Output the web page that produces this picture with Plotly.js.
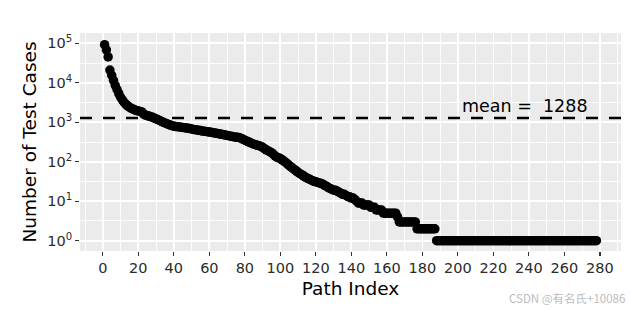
<!DOCTYPE html>
<html>
<head>
<meta charset="utf-8">
<script src="https://cdn.plot.ly/plotly-3.0.1.min.js"></script>
<style>
html,body{margin:0;padding:0;background:#ffffff;}
#chart{width:636px;height:309px;}
</style>
</head>
<body>
<div id="chart"></div>
<script>
// Number of test cases per path, sorted descending
const testCases = [
  92000, 68000, 45000, 21000, 15500, 11500, 8600, 6800, 5300, 4300,
  3700, 3200, 2850, 2600, 2400, 2250, 2150, 2050, 1980, 1930,
  1880, 1820, 1600, 1520, 1470, 1430, 1380, 1330, 1280, 1220,
  1160, 1110, 1050, 1000, 960, 920, 880, 850, 820, 795,
  780, 770, 760, 750, 740, 730, 715, 700, 690, 675,
  660, 650, 640, 625, 615, 600, 595, 585, 575, 565,
  555, 545, 535, 525, 515, 505, 495, 485, 475, 465,
  455, 445, 435, 425, 420, 415, 405, 390, 370, 350,
  335, 320, 305, 290, 280, 270, 262, 255, 245, 232,
  215, 200, 190, 180, 170, 155, 140, 130, 126, 120,
  112, 104, 96, 88, 80, 74, 68, 63, 58, 54,
  50, 47, 44, 41, 39, 37, 35, 33, 32, 31,
  30, 29, 28, 27, 25, 24, 22, 21, 20, 19,
  19, 18, 17, 16, 15, 15, 14, 13, 13, 12,
  12, 11, 10, 9, 9, 9, 8, 8, 8, 8,
  7, 7, 7, 6, 6, 6, 6, 5, 5, 5,
  5, 5, 5, 5, 5, 4, 3, 3, 3, 3,
  3, 3, 3, 3, 3, 3, 2, 2, 2, 2,
  2, 2, 2, 2, 2, 2, 2, 1, 1, 1,
  1, 1, 1, 1, 1, 1, 1, 1, 1, 1,
  1, 1, 1, 1, 1, 1, 1, 1, 1, 1,
  1, 1, 1, 1, 1, 1, 1, 1, 1, 1,
  1, 1, 1, 1, 1, 1, 1, 1, 1, 1,
  1, 1, 1, 1, 1, 1, 1, 1, 1, 1,
  1, 1, 1, 1, 1, 1, 1, 1, 1, 1,
  1, 1, 1, 1, 1, 1, 1, 1, 1, 1,
  1, 1, 1, 1, 1, 1, 1, 1, 1, 1,
  1, 1, 1, 1, 1, 1, 1, 1
];
const meanValue = 1288;
const meanLabel = 'mean =  1288';
const xTickVals = [0, 20, 40, 60, 80, 100, 120, 140, 160, 180, 200, 220, 240, 260, 280];
const xMinorVals = [-10, 10, 30, 50, 70, 90, 110, 130, 150, 170, 190, 210, 230, 250, 270, 290];
const yTickVals = [1, 10, 100, 1000, 10000, 100000];
const yTickText = ['10<sup>0</sup>', '10<sup>1</sup>', '10<sup>2</sup>', '10<sup>3</sup>', '10<sup>4</sup>', '10<sup>5</sup>'];
const yMinorVals = [3.1623, 31.623, 316.23, 3162.3, 31623];
const xTitle = 'Path Index';
const yTitle = 'Number of Test Cases';
const watermark = 'CSDN @有名氏+10086';

const pathIndex = testCases.map((_, i) => i + 1);

const FONT = 'DejaVu Sans, Liberation Sans, Arial, sans-serif';

const trace = {
  x: pathIndex,
  y: testCases,
  type: 'scatter',
  mode: 'markers',
  marker: {color: '#000000', size: 9.5, line: {width: 0}},
  hoverinfo: 'skip',
  showlegend: false
};

const layout = {
  width: 636,
  height: 309,
  margin: {l: 80, r: 15, t: 32.5, b: 58, pad: 0},
  paper_bgcolor: '#ffffff',
  plot_bgcolor: '#EBEBEB',
  font: {family: FONT, color: '#000000', size: 14},
  xaxis: {
    range: [-12.85, 291.85],
    tickmode: 'array',
    tickvals: xTickVals,
    ticktext: xTickVals.map(String),
    ticks: 'outside',
    ticklen: 4,
    tickwidth: 1.1,
    tickcolor: '#333333',
    tickfont: {family: FONT, size: 14.5, color: '#2b2b2b'},
    showgrid: true,
    gridcolor: '#FFFFFF',
    gridwidth: 1.8,
    minor: {tickmode: 'array', tickvals: xMinorVals, showgrid: true, gridcolor: '#FFFFFF', gridwidth: 0.9, ticks: ''},
    zeroline: false,
    showline: false,
    title: {text: xTitle, font: {family: FONT, size: 18.5, color: '#000000'}, standoff: 6}
  },
  yaxis: {
    type: 'log',
    range: [-0.26, 5.26],
    tickmode: 'array',
    tickvals: yTickVals,
    ticktext: yTickText,
    ticks: 'outside',
    ticklen: 4,
    tickwidth: 1.1,
    tickcolor: '#333333',
    tickfont: {family: FONT, size: 14.5, color: '#2b2b2b'},
    showgrid: true,
    gridcolor: '#FFFFFF',
    gridwidth: 1.8,
    minor: {tickmode: 'array', tickvals: yMinorVals, showgrid: true, gridcolor: '#FFFFFF', gridwidth: 0.9, ticks: ''},
    zeroline: false,
    showline: false,
    title: {text: yTitle, font: {family: FONT, size: 18.5, color: '#000000'}, standoff: 5}
  },
  shapes: [{
    type: 'line',
    xref: 'paper', x0: 0, x1: 1,
    yref: 'y', y0: meanValue, y1: meanValue,
    line: {color: '#000000', width: 2.5, dash: '12px,11px'},
    layer: 'above'
  }],
  annotations: [
    {
      xref: 'x', yref: 'y',
      x: 237.5, y: Math.log10(meanValue * 2),
      text: meanLabel,
      showarrow: false,
      xanchor: 'center', yanchor: 'middle',
      font: {family: FONT, size: 17.5, color: '#000000'}
    },
    {
      xref: 'paper', yref: 'paper',
      x: 1.012, y: -0.215,
      text: watermark,
      showarrow: false,
      xanchor: 'right', yanchor: 'middle',
      font: {family: 'Noto Sans CJK SC, DejaVu Sans, sans-serif', size: 11.5, color: '#BDBDBD'}
    }
  ]
};

Plotly.newPlot('chart', [trace], layout, {displayModeBar: false, staticPlot: true});
</script>
</body>
</html>
